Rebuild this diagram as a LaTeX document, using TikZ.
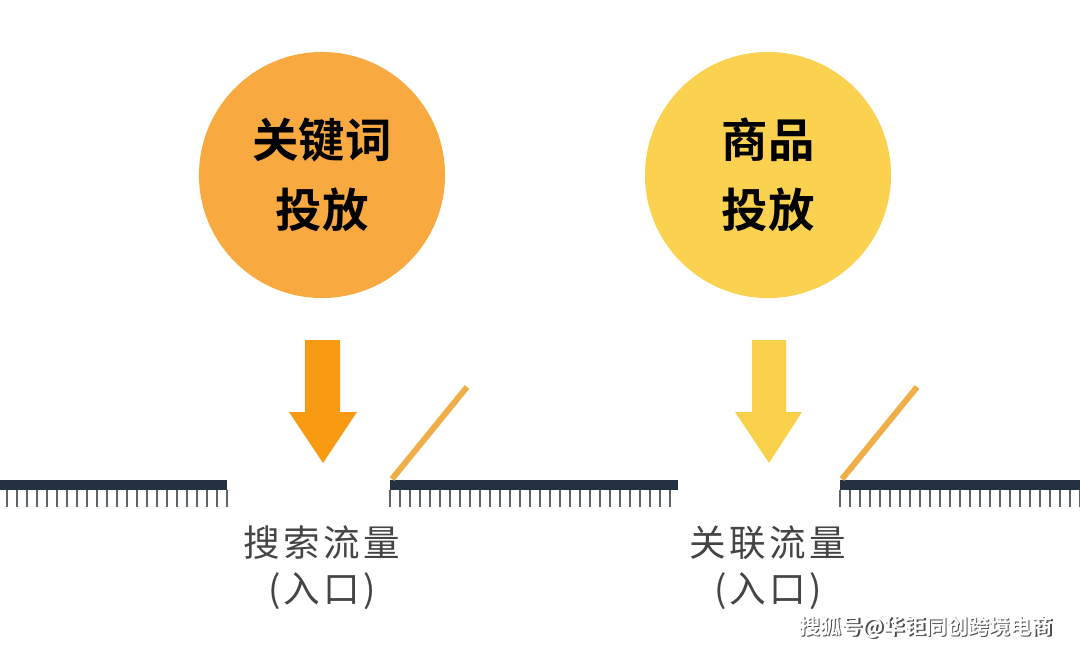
\documentclass[tikz,border=0pt]{standalone}
\usepackage{fontspec}
\newfontfamily\cjk[BoldFont={Noto Sans CJK SC Bold}]{Noto Sans CJK SC}
\newfontfamily\cjkwide[LetterSpace=9]{Noto Sans CJK SC}
\usetikzlibrary{positioning}
\definecolor{ballA}{HTML}{F8AA40}
\definecolor{ballB}{HTML}{FAD250}
\definecolor{arrowA}{HTML}{F99B12}
\definecolor{arrowB}{HTML}{F9D04A}
\definecolor{barcol}{HTML}{243140}
\definecolor{tickcol}{HTML}{5E6368}
\definecolor{slash}{HTML}{F0AE48}
\definecolor{labelcol}{HTML}{444444}
\tikzset{
  ball/.style={circle,minimum size=6.15cm,inner sep=0pt,align=center,
    font=\cjk\fontsize{33}{50}\selectfont\bfseries,text=black},
  tick/.style={tickcol,line width=0.8pt},
  label/.style={align=center,text=labelcol,
    font=\cjkwide\fontsize{26}{32.6}\selectfont},
  mark line/.style={slash,line width=4.2pt},
}
\begin{document}
\begin{tikzpicture}[x=0.025cm,y=-0.025cm]
\useasboundingbox (0,0) rectangle (1080,651);
\fill[white] (0,0) rectangle (1080,651);
% circles
\node[ball,fill=ballA] (kw) at (322,175) {关键词\\投放};
\node[ball,fill=ballB] (gd) at (768,175) {商品\\投放};
% block arrows
\fill[arrowA] (305,340) -- (340,340) -- (340,412) -- (357,412) -- (323,463)
  -- (289,412) -- (305,412) -- cycle;
\fill[arrowB] (752,340) -- (786,340) -- (786,412) -- (802,412) -- (769,463)
  -- (735,412) -- (752,412) -- cycle;
% rulers
\fill[barcol] (0,480) rectangle (227,490);
\fill[barcol] (390,480) rectangle (678,490);
\fill[barcol] (840,480) rectangle (1080,490);
\foreach \x in {7,17,...,227} \draw[tick] (\x,490) -- (\x,507);
\foreach \x in {390,400,...,678} \draw[tick] (\x,490) -- (\x,507);
\foreach \x in {840,850,...,1080} \draw[tick] (\x,490) -- (\x,507);
% open gates
\coordinate (g1) at (392,479);
\coordinate (g1e) at (467,387);
\coordinate (g2) at (842,479);
\coordinate (g2e) at (917,387);
\draw[mark line] (g1) -- (g1e);
\draw[mark line] (g2) -- (g2e);
% labels
\node[label] (ss) at (322,568) {搜索流量\\(入口)};
\node[label] (gl) at (768,568) {关联流量\\(入口)};
\node[font=\cjk\fontsize{15}{18}\selectfont\bfseries,text=gray!60!black] at (927.5,628.5) {搜狐号@华钜同创跨境电商};
\node[font=\cjk\fontsize{15}{18}\selectfont\bfseries,text=white] (wm) at (926,627) {搜狐号@华钜同创跨境电商};
\end{tikzpicture}
\end{document}
